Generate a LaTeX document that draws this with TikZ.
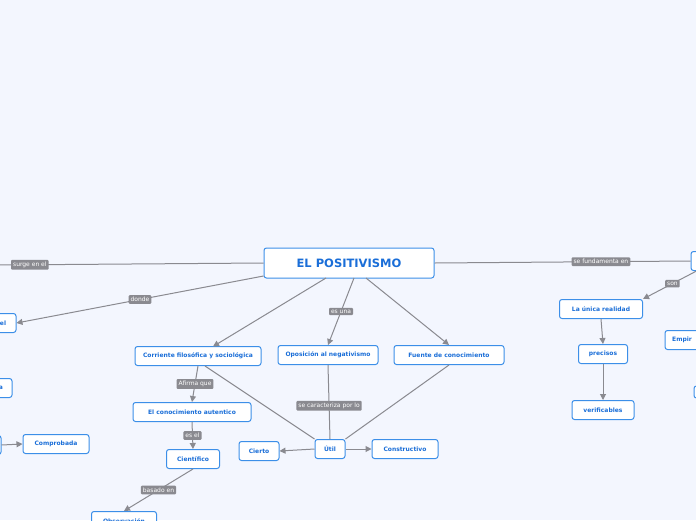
\documentclass[tikz,border=0pt]{standalone}
\usepackage{fontspec}
\setmainfont{DejaVu Sans}
\usetikzlibrary{arrows.meta}
\definecolor{bg}{HTML}{F3F6FE}
\definecolor{bd}{HTML}{3C8FE8}
\definecolor{tx}{HTML}{1A6ED8}
\definecolor{ln}{HTML}{8A8A90}
\tikzset{
 box/.style={draw=bd,line width=1pt,fill=white,rounded corners=2.5pt,text=tx,font=\bfseries\fontsize{6}{7}\selectfont,minimum height=19pt,inner xsep=4pt,anchor=center},
 lab/.style={fill=ln,text=white,font=\fontsize{6}{7}\selectfont,inner sep=2pt,rounded corners=1pt},
 con/.style={draw=ln,line width=1pt},
 arr/.style={con,-{Triangle[length=6pt,width=6pt]}}
}
\begin{document}
\begin{tikzpicture}[x=1pt,y=-1pt]
\fill[bg] (0,0) rectangle (696,520);
\useasboundingbox (0,0) rectangle (696,520);
\begin{scope}
\clip (0,0) rectangle (696,520);
\node[box,minimum width=170pt,minimum height=30pt,font=\bfseries\fontsize{11.5}{13}\selectfont] (m) at (349,263) {EL POSITIVISMO};
\node[box,minimum width=40pt] (el) at (-4,323) {\hspace*{14pt}el};
\node[box,minimum width=40pt] (a) at (-8,388) {\hspace*{18pt}a};
\node[box,minimum width=40pt] (p3) at (-19,445) {};
\node[box,minimum width=66pt] (comp) at (56,444) {Comprobada};
\node[box,minimum width=126pt] (cor) at (198,356) {Corriente filosófica y sociológica};
\node[box,minimum width=100pt] (op) at (328,355) {Oposición al negativismo};
\node[box,minimum width=110pt] (fu) at (449,355) {Fuente de conocimiento};
\node[box,minimum width=118pt] (ca) at (192,412) {El conocimiento autentico};
\node[box,minimum width=53pt] (ci) at (193,459) {Científico};
\node[box,minimum width=65pt] (ob) at (124,521) {Observación};
\node[box,minimum width=40pt] (cie) at (259,451) {Cierto};
\node[box,minimum width=30pt] (ut) at (330,449) {Útil};
\node[box,minimum width=66pt] (cons) at (405,449) {Constructivo};
\node[box,minimum width=83pt] (ur) at (601,309) {La única realidad};
\node[box,minimum width=49pt] (pr) at (603,354) {precisos};
\node[box,minimum width=62pt] (ve) at (603,410) {verificables};
\node[box,minimum width=40pt] (rb) at (711,261) {};
\node[box,minimum width=60pt] (em) at (695,340) {\hspace*{-26pt}Empir};
\node[box,minimum width=20pt,minimum height=12pt] (sm) at (704,392) {};
\coordinate (lft) at (-2,265);
\coordinate (corin) at (213,346.5);
\draw[con] (m.west) -- node[lab,pos=0.88]{surge en el} (lft);
\draw[arr] (m.west |- 0,276) -- node[lab,pos=0.5]{donde} (el.east);
\draw[arr] (326,278) -- (corin);
\draw[arr] (354,278) -- node[lab,pos=0.5]{es una} (op.north);
\draw[arr] (366,278) -- (fu.north);
\draw[con] (205,366) -- (ut.north west);
\draw[con] (op.south) -- node[lab,pos=0.55]{se caracteriza por lo} (ut.north);
\draw[con] (fu.south) -- (ut.north east);
\draw[arr] (ut.west) -- (cie.east);
\draw[arr] (ut.east) -- (cons.west);
\draw[arr] (cor.south) -- node[lab,pos=0.5]{Afirma que} (ca.north);
\draw[arr] (ca.south) -- node[lab,pos=0.5]{es el} (ci.north);
\draw[arr] (ci.south) -- node[lab,pos=0.5]{basado en} (ob.north);
\draw[arr] (p3.east) -- (comp.west);
\draw[con] (m.east) -- node[lab,pos=0.65]{se fundamenta en} (rb.west);
\draw[arr] (rb.south west) ++(6,0) -- node[lab,pos=0.45]{son} (ur.north east);
\draw[arr] (ur.south) -- (pr.north);
\draw[arr] (pr.south) -- (ve.north);
\end{scope}
\end{tikzpicture}
\end{document}
